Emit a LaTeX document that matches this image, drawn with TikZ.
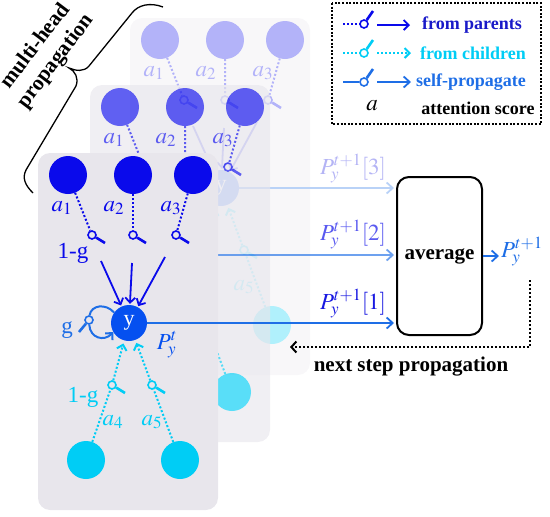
\documentclass[tikz,border=0pt]{standalone}
\usepackage{mathptmx}
\usepackage{fontspec}
\setmainfont{Liberation Serif}
\usetikzlibrary{arrows.meta}
\definecolor{pblue}{RGB}{10,10,235}
\definecolor{yblue}{RGB}{5,80,240}
\definecolor{sblue}{RGB}{30,110,230}
\definecolor{ccyan}{RGB}{0,205,245}
\definecolor{panelc}{RGB}{232,230,236}
\definecolor{lgblue}{RGB}{25,25,200}
\definecolor{pone}{RGB}{25,25,225}
\definecolor{ptwo}{RGB}{90,90,240}
\definecolor{pthree}{RGB}{180,180,245}
\tikzset{
  lbl/.style={font=\fontsize{23}{23}\selectfont, inner sep=0pt},
  ltext/.style={font=\bfseries\fontsize{18}{18}\selectfont, inner sep=0pt},
  pnode/.style={circle, fill=pblue, minimum size=38pt, inner sep=0pt},
  cnode/.style={circle, fill=ccyan, minimum size=38pt, inner sep=0pt},
  ynode/.style={circle, fill=yblue, minimum size=36pt, inner sep=0pt, text=white, font=\fontsize{22}{22}\selectfont},
  sw/.style={circle, line width=1.6pt, fill=panelc, minimum size=8pt, inner sep=0pt},
  lever/.style={line width=2.6pt},
  pdot/.style={draw=pblue, line width=2pt, dash pattern=on 2pt off 2pt},
  cdot/.style={draw=ccyan, line width=2pt, dash pattern=on 2pt off 2pt},
  parr/.style={draw=pblue, line width=1.8pt, -{Straight Barb[length=5pt,width=10pt]}, shorten >=1pt},
  carr/.style={cdot, -{Straight Barb[length=5pt,width=10pt]}, shorten >=3pt},
  sline/.style={draw=sblue, line width=2pt},
  sarr/.style={draw=sblue, line width=1.8pt, -{Straight Barb[length=6pt,width=11pt]}, shorten >=2pt},
  avgbox/.style={draw=black, line width=2pt, rounded corners=12pt, minimum width=85pt, minimum height=158pt, font=\bfseries\fontsize{21}{21}\selectfont, inner sep=0pt},
  fbline/.style={draw=black, line width=2pt, dash pattern=on 2pt off 2pt, -{Straight Barb[length=5pt,width=11pt]}},
}
% #1 = name suffix, #2 = 1 for the front head (extra labels)
\newcommand{\headlayer}[2]{%
  \fill[panelc, rounded corners=12pt] (38,153) rectangle (218,510);
  \node[pnode] (p1#1) at (68,175) {};
  \node[pnode] (p2#1) at (133,175) {};
  \node[pnode] (p3#1) at (193,175) {};
  \node[lbl, text=pblue] at (62,208) {$a_1$};
  \node[lbl, text=pblue] at (114,208) {$a_2$};
  \node[lbl, text=pblue] at (171,208) {$a_3$};
  \node[ynode] (y#1) at (129,323) {y};
  \node[sw, draw=pblue] (s1#1) at (92,235) {};
  \node[sw, draw=pblue] (s2#1) at (133,235) {};
  \node[sw, draw=pblue] (s3#1) at (176,235) {};
  \draw[pdot] (p1#1) -- (s1#1);
  \draw[pdot] (p2#1) -- (s2#1);
  \draw[pdot] (p3#1) -- (s3#1);
  \draw[lever, pblue] (s1#1) -- ++(13,8);
  \draw[lever, pblue] (s2#1) -- ++(13,8);
  \draw[lever, pblue] (s3#1) -- ++(13,8);
  \coordinate (q1#1) at (101,261);
  \coordinate (q2#1) at (132,263);
  \coordinate (q3#1) at (165,257);
  \draw[parr] (q1#1) -- (y#1);
  \draw[parr] (q2#1) -- (y#1);
  \draw[parr] (q3#1) -- (y#1);
  \node[sw, draw=sblue] (sg#1) at (89,320) {};
  \draw[sline] (y#1.145) .. controls (106,303) and (91,305) .. (sg#1);
  \draw[sline, -{Straight Barb[length=5pt,width=10pt]}] (sg#1) .. controls (90,338) and (104,342) .. (y#1.210);
  \draw[lever, sblue] (sg#1) -- ++(-10,12);
  \node[cnode] (c1#1) at (86,460) {};
  \node[cnode] (c2#1) at (180,460) {};
  \node[sw, draw=ccyan] (t1#1) at (112,385) {};
  \node[sw, draw=ccyan] (t2#1) at (152,385) {};
  \draw[cdot] (c1#1) -- (t1#1);
  \draw[cdot] (c2#1) -- (t2#1);
  \draw[lever, ccyan] (t1#1) -- ++(13,8);
  \draw[lever, ccyan] (t2#1) -- ++(13,8);
  \draw[carr] (t1#1) -- (y#1);
  \draw[carr] (t2#1) -- (y#1);
  \node[lbl, text=ccyan] at (113,422) {$a_4$};
  \node[lbl, text=ccyan] at (152,422) {$a_5$};
  \ifnum#2=1
    \node[lbl, text=pblue] at (73,253) {1-g};
    \node[lbl, text=sblue] at (67,330) {g};
    \node[lbl, text=yblue] at (167,345) {$P_y^t$};
    \node[lbl, text=ccyan] at (83,397) {1-g};
  \fi
  \draw[sarr] (y#1) -- (avg.west |- y#1);
}
\begin{document}
\begin{tikzpicture}[x=1pt, y=-1pt]
\useasboundingbox (0,0) rectangle (550,517);
\node[avgbox] (avg) at (439.5,256) {average};
% layers
\begin{scope}[shift={(92,-135)}, transparency group, opacity=0.31]
  \headlayer{C}{0}
\end{scope}
\begin{scope}[shift={(52,-68)}, transparency group, opacity=0.65]
  \headlayer{B}{0}
\end{scope}
\begin{scope}
  \headlayer{A}{1}
\end{scope}
% head outputs
\node[lbl, text=pthree] at (353,169) {$P_y^{t+1}[3]$};
\node[lbl, text=ptwo] at (353,235) {$P_y^{t+1}[2]$};
\node[lbl, text=pone] at (353,304) {$P_y^{t+1}[1]$};
\node[lbl, text=sblue, anchor=west] (pout) at (501,252) {$P_y^{t+1}$};
\draw[sarr] (avg.east) -- (avg.east -| pout.west);
\coordinate (fbs) at (530,280);
\coordinate (fbe) at (290,347);
\draw[fbline] (fbs) |- (fbe);
\node[font=\bfseries\fontsize{21}{21}\selectfont, inner sep=0pt] (nsp) at (411,367) {next step propagation};
% brace and label
\draw[line width=1.3pt] (33,193) .. controls (25,185) and (22,178) .. (26,170) -- (76,86) .. controls (79,78) and (75,71) .. (69,68) .. controls (76,71) and (84,72) .. (89,66) -- (132,13) .. controls (138,5) and (150,2) .. (163,7);
\node[rotate=53, align=center, font=\bfseries\fontsize{21.5}{25}\selectfont, inner sep=0pt] (mhp) at (46,54) {multi-head\\propagation};
% legend
\draw[black, line width=2.2pt, dash pattern=on 2pt off 1.6pt] (332,3) rectangle (541,124);
\coordinate (l1a) at (343,24);
\node[sw, draw=pblue, fill=white] (l1s) at (364,24) {};
\draw[pdot] (l1a) -- (l1s);
\draw[lever, pblue] (l1s) -- ++(9,-13);
\coordinate (l1b) at (377,25);
\coordinate (l1c) at (411,25);
\draw[parr] (l1b) -- (l1c);
\node[ltext, text=lgblue] at (472,25) {from parents};
\coordinate (l2a) at (343,53);
\node[sw, draw=ccyan, fill=white] (l2s) at (364,53) {};
\draw[cdot] (l2a) -- (l2s);
\draw[lever, ccyan] (l2s) -- ++(9,-13);
\coordinate (l2b) at (377,53);
\coordinate (l2c) at (411,53);
\draw[carr, shorten >=0pt] (l2b) -- (l2c);
\node[ltext, text=ccyan] at (473,53) {from children};
\coordinate (l3a) at (343,82);
\node[sw, draw=sblue, fill=white] (l3s) at (364,82) {};
\draw[sline] (l3a) -- (l3s);
\draw[lever, sblue] (l3s) -- ++(9,-13);
\coordinate (l3b) at (377,82);
\coordinate (l3c) at (411,82);
\draw[sarr, shorten >=0pt] (l3b) -- (l3c);
\node[ltext, text=sblue] at (471,82) {self-propagate};
\node[lbl] (la) at (372,106) {$a$};
\node[ltext] at (478,108) {attention score};
\end{tikzpicture}
\end{document}
